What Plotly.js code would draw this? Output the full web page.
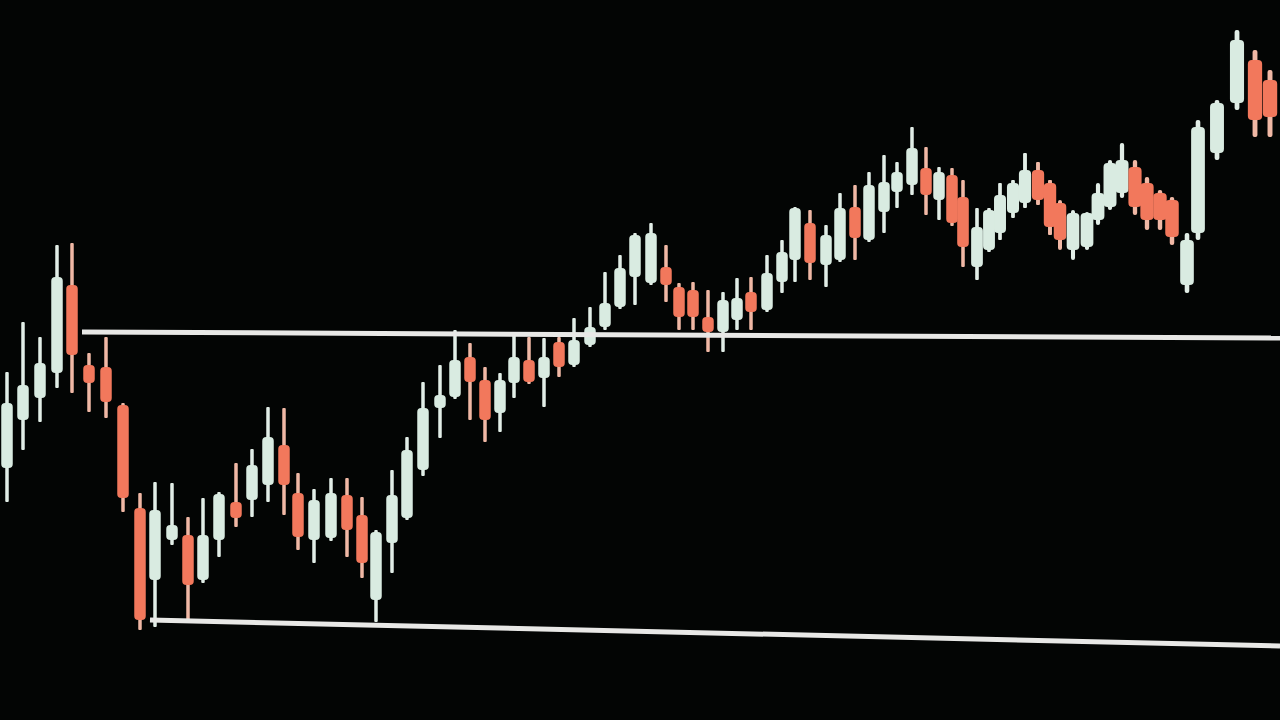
<!DOCTYPE html>
<html>
<head>
<meta charset="utf-8">
<script src="https://cdn.plot.ly/plotly-3.0.1.min.js"></script>
<style>
html,body{margin:0;padding:0;background:#030504;}
#chart{width:1280px;height:720px;}
</style>
</head>
<body>
<div id="chart"></div>
<script>
// Candle time positions
const t = [7,23,40,57,72,89,106,123,140,155,172,188,203,219,236,252,268,284,298,314,331,347,362,376,392,407,423,440,455,470,485,500,514,529,544,559,574,590,605,620,635,651,666,679,693,708,723,737,751,767,782,795,810,826,840,855,869,884,897,912,926,939,952,963,977,989,1000,1013,1025,1038,1050,1060,1073,1087,1098,1110,1122,1135,1147,1160,1172,1187,1198,1217,1237,1255,1270];
const open  = [252,300,322,347,435,355,353,315,212,140,180,185,140,180,218,220,235,275,227,180,182,225,205,120,177,202,250,312,323,363,340,307,337,360,342,378,355,375,393,413,443,437,453,433,430,403,388,400,428,410,438,460,497,455,460,513,480,508,528,535,552,520,545,523,453,470,487,507,517,550,537,517,470,473,500,513,527,553,537,527,520,435,487,567,617,660,640];
const high  = [348,398,383,475,477,367,383,317,227,238,237,203,222,228,257,271,313,312,247,231,242,242,223,190,250,283,338,355,390,377,353,347,388,383,382,383,402,413,448,465,487,497,475,437,438,430,428,442,443,465,480,513,510,495,527,535,548,565,558,593,573,553,552,540,512,512,537,540,567,558,540,520,510,508,537,560,577,560,543,530,523,487,600,620,690,670,650];
const low   = [218,270,298,332,327,308,302,208,90,93,175,100,137,163,193,203,218,205,170,157,179,163,142,98,147,200,244,282,321,300,278,288,322,336,313,343,353,373,390,411,415,435,418,390,390,368,368,390,390,408,427,438,440,433,458,460,478,487,512,525,505,500,494,453,440,468,480,502,512,515,485,470,460,470,495,510,522,505,490,490,475,427,480,560,610,583,583];
const close = [317,335,357,443,365,337,318,222,100,210,195,135,185,226,202,255,283,235,183,220,227,190,157,188,225,270,312,325,360,338,300,340,363,338,363,353,380,393,417,452,485,487,435,403,403,388,420,422,408,447,468,512,457,485,512,482,535,538,548,572,525,548,497,473,493,510,525,537,550,520,493,480,507,507,527,557,560,513,500,500,483,480,593,617,680,600,603];

// Support / resistance levels
const resistX = [82, 1280];
const resistY = [388, 382];
const supportX = [150, 1280];
const supportY = [100, 74];

const upBody = '#d9ebe1', downBody = '#f2785c';
const upWick = '#e2eee7', downWick = '#f0b8a5';

const isUp = open.map((o,i)=> close[i] >= o);
const bodyBase = open.map((o,i)=> Math.min(o, close[i]));
const bodyLen = open.map((o,i)=> Math.max(Math.abs(close[i]-o), 3));
const wickLen = high.map((h,i)=> h - low[i]);
// out-of-focus right side renders marks slightly wider
const bodyW = t.map(x => 11.5 + Math.max(0, x - 950) / 110);
const wickW = t.map(x => 3.5 + Math.max(0, x - 950) / 220);

const traces = [
  {type:'scatter', mode:'lines', x:resistX, y:resistY, line:{color:'#e8e8e6', width:5}, hoverinfo:'skip'},
  {type:'scatter', mode:'lines', x:supportX, y:supportY, line:{color:'#e8e8e6', width:5}, hoverinfo:'skip'},
  {type:'bar', x:t, base:low, y:wickLen, width:wickW,
   marker:{color:isUp.map(u=>u?upWick:downWick), cornerradius:2, line:{width:0}}},
  {type:'bar', x:t, base:bodyBase, y:bodyLen, width:bodyW,
   marker:{color:isUp.map(u=>u?upBody:downBody), cornerradius:4, line:{width:0}}}
];

const layout = {
  width:1280, height:720,
  margin:{l:0,r:0,t:0,b:0},
  paper_bgcolor:'#030504', plot_bgcolor:'#030504',
  barmode:'overlay', showlegend:false,
  xaxis:{range:[0,1280], visible:false, fixedrange:true},
  yaxis:{range:[0,720], visible:false, fixedrange:true}
};

Plotly.newPlot('chart', traces, layout, {displayModeBar:false, staticPlot:true});
</script>
</body>
</html>
